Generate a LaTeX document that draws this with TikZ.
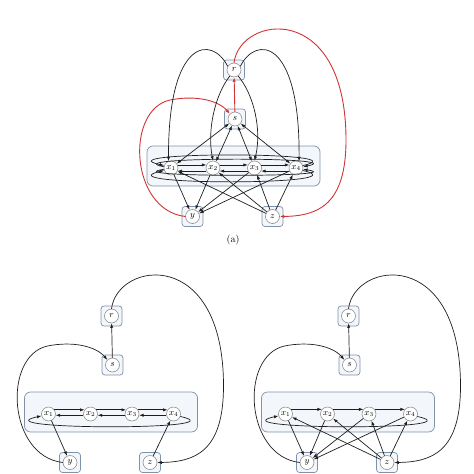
\documentclass[tikz,border=0pt]{standalone}
\usetikzlibrary{arrows.meta}
\definecolor{boxblue}{RGB}{128,146,170}
\definecolor{boxfill}{RGB}{243,246,250}
\definecolor{edgegray}{RGB}{30,30,30}
\definecolor{edgered}{RGB}{208,52,52}
\tikzset{
  var/.style={circle, draw=gray, fill=white, line width=0.5pt, minimum size=14pt, inner sep=0pt, font=\small},
  obs/.style={draw=boxblue, fill=boxfill, rounded corners=3pt, line width=0.7pt, minimum width=21pt, minimum height=20pt},
  plate/.style={draw=boxblue, fill=boxfill, rounded corners=6pt, line width=0.7pt},
  edge/.style={draw=edgegray, line width=0.7pt, ->},
}
\begin{document}
\begin{tikzpicture}[x=1pt,y=1pt,>={Latex[length=4.5pt,width=3.2pt]}]
	\useasboundingbox (0,0) rectangle (474,-474);

	% the same skeleton in all three panels
	\foreach \p/\dx/\dy/\c/\w in {a/0/0/edgered/0.9pt, b/-122.5/-246/edgegray/0.7pt, c/114.5/-246/edgegray/0.7pt}{
	\begin{scope}[shift={(\dx,\dy)}]
	\draw[plate] (147,-146) rectangle (320,-186);
	\node[obs] (\p-rbox) at (234,-70) {};
	\node[obs] (\p-sbox) at (235,-119) {};
	\node[obs] (\p-ybox) at (192.5,-216.5) {};
	\node[obs] (\p-zbox) at (272.5,-216.5) {};
	\node[var] (\p-r) at (234,-70) {$r$};
	\node[var] (\p-s) at (235,-119) {$s$};
	\node[var] (\p-y) at (192.5,-216.5) {$y$};
	\node[var] (\p-z) at (272.5,-216.5) {$z$};
	\node[var] (\p-x1) at (171,-168) {$x_1$};
	\node[var] (\p-x2) at (213,-168) {$x_2$};
	\node[var] (\p-x3) at (254.5,-168) {$x_3$};
	\node[var] (\p-x4) at (296,-168) {$x_4$};

	\draw[edge,draw=\c,line width=\w] (\p-s) -- (\p-r);
	\draw[edge,draw=\c,line width=\w] (\p-r.north) .. controls (240,-15) and (346,0) .. (346,-140)
		.. controls (346,-205) and (318,-216) .. (\p-z.east);
	\draw[edge,draw=\c,line width=\w] (\p-y.west) .. controls (130,-210) and (125,-110) .. (170,-100)
		.. controls (195,-95) and (218,-100) .. (\p-s.north west);
	\end{scope}
	}

	% (a)
	\draw[edge] (a-r.150) .. controls (212,-35) and (168,-38) .. (a-x1.110);
	\draw[edge] (a-r.30) .. controls (256,-35) and (300,-38) .. (a-x4.65);
	\draw[edge] (a-r.235) .. controls (215,-95) and (207,-130) .. (a-x2.north);
	\draw[edge] (a-r.-55) .. controls (254,-95) and (262,-130) .. (a-x3.north);
	\foreach \i in {1,...,4}{
		\draw[edge,<->] (a-s) -- (a-x\i);
		\draw[edge] (a-x\i) -- (a-y);
		\draw[edge] (a-z) -- (a-x\i);
	}
	\foreach \i/\j in {1/2,2/3,3/4}{
		\draw[edge] (a-x\i.25) -- (a-x\j.155);
		\draw[edge] (a-x\j.-155) -- (a-x\i.-25);
	}
	\draw[edge] (a-x4.20) .. controls +(64,14) and +(-64,14) .. (a-x1.160);
	\draw[edge] (a-x1.170) .. controls +(-52,10) and +(52,10) .. (a-x4.10);
	\draw[edge] (a-x4.-20) .. controls +(64,-15) and +(-64,-15) .. (a-x1.200);
	\draw[edge] (a-x1.190) .. controls +(-52,-8) and +(52,-8) .. (a-x4.-10);
	\node (a-lbl) at (233,-240) {(a)};

	% (b)
	\foreach \i/\j in {1/2,2/3,3/4}{
		\draw[edge] (b-x\i.35) -- (b-x\j.145);
		\draw[edge] (b-x\j.-170) -- (b-x\i.-10);
	}
	\draw[edge] (b-x1) -- (b-y);
	\draw[edge] (b-z) -- (b-x4);
	\draw[edge] (b-x4.-20) .. controls +(64,-14) and +(-64,-14) .. (b-x1.195);

	% (c)
	\foreach \i/\j in {1/2,2/3,3/4}
		\draw[edge] (c-x\i.40) -- (c-x\j.140);
	\foreach \i in {1,...,4}{
		\draw[edge] (c-x\i) -- (c-y);
		\draw[edge] (c-z) -- (c-x\i);
	}
	\draw[edge] (c-x4.-20) .. controls +(64,-14) and +(-64,-14) .. (c-x1.195);
\end{tikzpicture}
\end{document}
